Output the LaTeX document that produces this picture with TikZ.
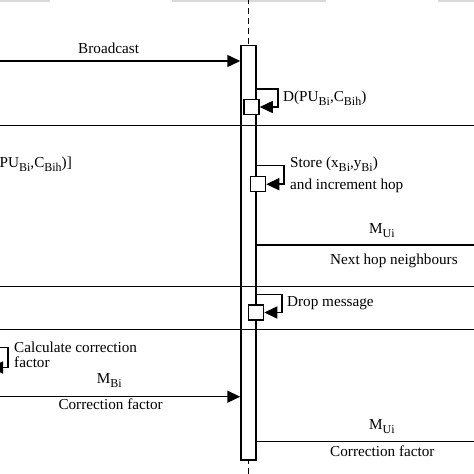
\documentclass[tikz,border=0pt]{standalone}
\usepackage{fontspec}
\setmainfont{Liberation Serif}
\usetikzlibrary{arrows.meta}
\newcommand{\sbs}[1]{\raisebox{-4pt}{\fontsize{12}{12}\selectfont #1}}
\tikzset{
  ln/.style={line width=1.5pt},
  msg/.style={line width=1.5pt, -{Triangle[length=13pt,width=12pt]}},
  sq/.style={draw, fill=white, line width=1.5pt, minimum width=15pt, minimum height=15pt, inner sep=0},
  lw/.style={inner sep=0, anchor=base west},
  lc/.style={inner sep=0, anchor=base},
  topbar/.style={fill=black!15, draw=none}
}
\begin{document}
\begin{tikzpicture}[x=1pt,y=-1pt,font=\fontsize{15.2}{18}\selectfont]
\clip (0,0) rectangle (474,474);
\fill[white] (0,0) rectangle (474,474);
% faint remnants at the top edge
\fill[topbar] (0,0) rectangle (50,2);
\fill[topbar] (172,0) rectangle (326,2);
\fill[topbar] (438,0) rectangle (474,2);
% lifeline
\coordinate (lt) at (248.5,-2);
\coordinate (lb) at (248.5,476);
\draw[line width=1.7pt, dash pattern=on 6pt off 4pt] (lt) -- (lb);
% activation bar
\node[draw, fill=white, line width=1.5pt, minimum width=15pt, minimum height=414.5pt, inner sep=0] (bar) at (248.5,252.75) {};
% separators
\coordinate (h1a) at (-5,125.7); \coordinate (h1b) at (480,125.7);
\coordinate (h2a) at (-5,286.7); \coordinate (h2b) at (480,286.7);
\coordinate (h3a) at (-5,329.3); \coordinate (h3b) at (480,329.3);
\draw[ln] (h1a) -- (h1b);
\draw[ln] (h2a) -- (h2b);
\draw[ln] (h3a) -- (h3b);
% broadcast
\coordinate (b0) at (-5,61);
\draw[msg] (b0) -- (bar.west |- b0);
\node[lc] (tb) at (108.6,53) {Broadcast};
% self message 1
\node[sq] (s1) at (251.5,107) {};
\coordinate (l1s) at (256,89);
\coordinate (l1) at (278,89);
\draw[msg] (l1s) -- (l1) |- (s1.east);
\node[lw] (t1) at (283,101.5) {D(PU\sbs{Bi},C\sbs{Bih})};
% left text
\node[lw] (tl) at (-0.5,167.5) {PU\sbs{Bi},C\sbs{Bih})]};
% self message 2
\node[sq] (s2) at (258,184.2) {};
\coordinate (l2s) at (256,165.7);
\coordinate (l2) at (284,165.7);
\draw[msg] (l2s) -- (l2) |- (s2.east);
\node[lw] (t2a) at (290,167.5) {Store (x\sbs{Bi},y\sbs{Bi})};
\node[lw] (t2b) at (290,189.3) {and increment hop};
% M_Ui upper
\coordinate (m1e) at (480,245);
\draw[ln] (bar.east |- m1e) -- (m1e);
\node[lw] (t3a) at (369,233.3) {M\sbs{Ui}};
\node[lw] (t3b) at (330,264.3) {Next hop neighbours};
% self message 3
\node[sq] (s3) at (256,312.5) {};
\coordinate (l3s) at (256,294.3);
\coordinate (l3) at (282,294.3);
\draw[msg] (l3s) -- (l3) |- (s3.east);
\node[lw] (t4) at (287,306.5) {Drop message};
% left self message
\coordinate (l4s) at (-5,347.7);
\coordinate (l4) at (8,347.7);
\coordinate (l4e) at (-10,367.5);
\draw[msg] (l4s) -- (l4) |- (l4e);
\node[lw] (t5a) at (14,352.5) {Calculate correction};
\node[lw] (t5b) at (14,367.5) {factor};
% M_Bi
\coordinate (mb0) at (-5,396.7);
\draw[msg] (mb0) -- (bar.west |- mb0);
\node[lw] (t6a) at (96.7,383.3) {M\sbs{Bi}};
\node[lw] (t6b) at (58.3,409.3) {Correction factor};
% M_Ui lower
\coordinate (m2e) at (480,441.7);
\draw[ln] (bar.east |- m2e) -- (m2e);
\node[lw] (t7a) at (369,429.3) {M\sbs{Ui}};
\node[lw] (t7b) at (330,456.7) {Correction factor};
\end{tikzpicture}
\end{document}
